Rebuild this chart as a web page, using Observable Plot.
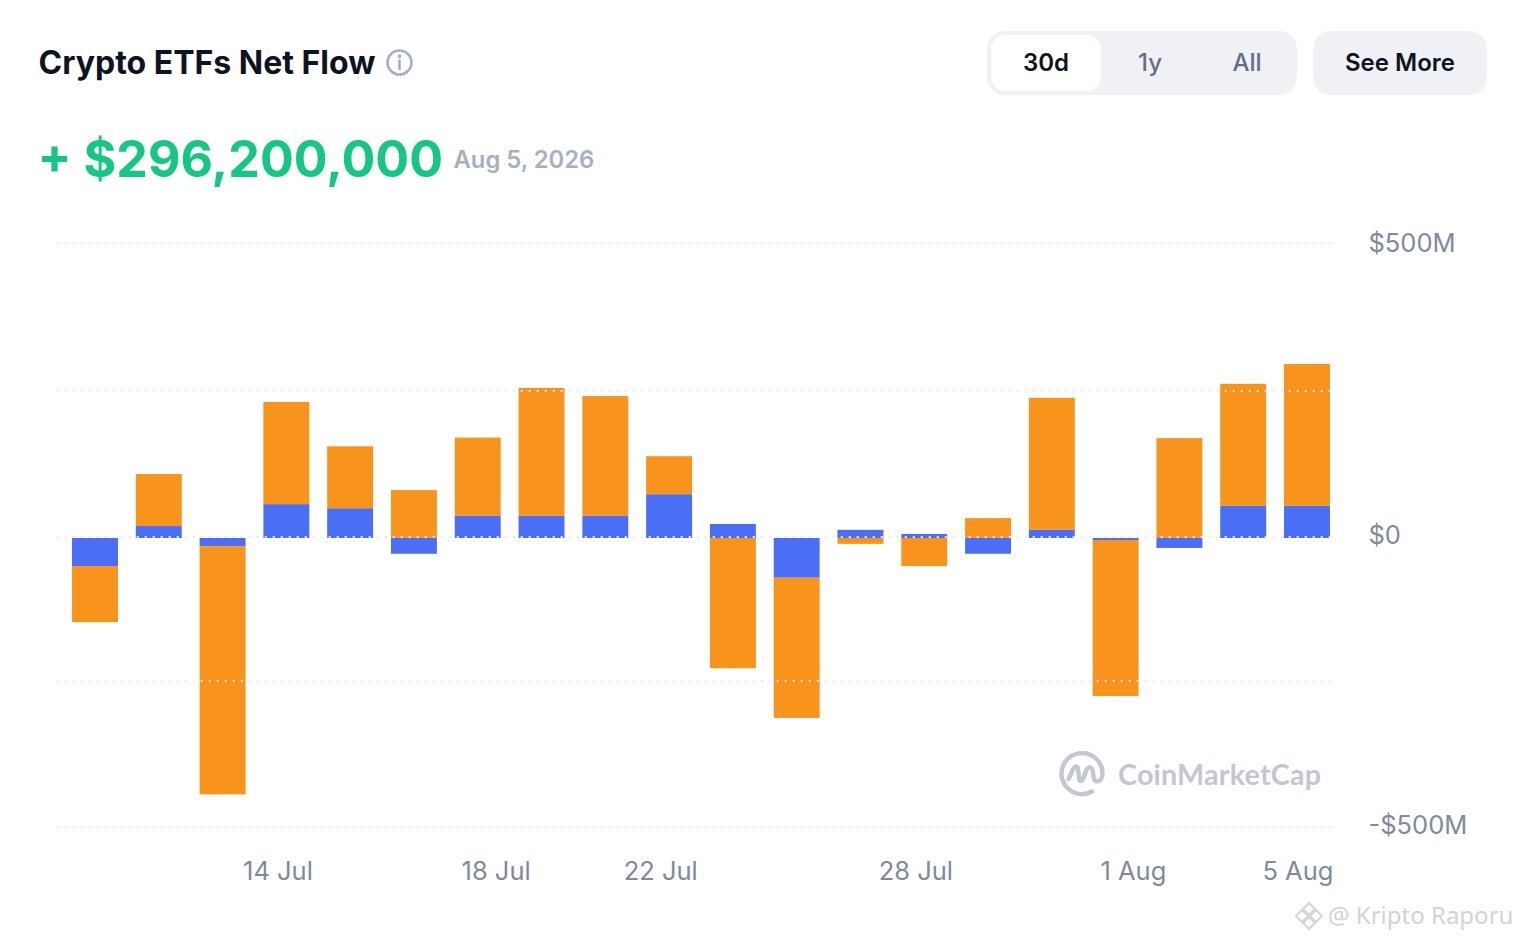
<!DOCTYPE html>
<html><head><meta charset="utf-8">
<script src="https://cdn.jsdelivr.net/npm/d3@7"></script>
<script src="https://cdn.jsdelivr.net/npm/@observablehq/plot@0.6"></script>
<style>
html,body{margin:0;padding:0;background:#fff;width:1520px;height:940px;overflow:hidden;font-family:Inter,sans-serif}
.a{position:absolute;white-space:nowrap;line-height:1}
#chart{position:absolute;left:0;top:200px}
#chart svg{display:block;background:transparent;overflow:visible}
</style></head><body>
<div class="a" id="title" style="left:38.500px;top:47px;font-size:32px;font-weight:700;color:#0d1421">Crypto ETFs Net Flow</div>
<svg class="a" style="left:385px;top:48px" width="29" height="29" viewBox="0 0 29 29" fill="none" stroke="#a6b0c3" stroke-width="2.6" stroke-linecap="round"><circle cx="14.5" cy="14.5" r="12"/><path d="M14.5 12.500v8.500"/><path d="M14.5 8v.5" stroke-width="3.400"/></svg>
<div class="a" style="left:987px;top:31px;width:310px;height:64px;background:#eff1f5;border-radius:18px"></div>
<div class="a" style="left:991px;top:35px;width:110px;height:56px;background:#fff;border-radius:14px"></div>
<div class="a" style="left:991px;width:110px;top:51px;text-align:center;font-size:24px;font-weight:600;color:#0d1421">30d</div>
<div class="a" style="left:1100px;width:100px;top:51px;text-align:center;font-size:24px;font-weight:500;color:#616e85">1y</div>
<div class="a" style="left:1197px;width:100px;top:51px;text-align:center;font-size:24px;font-weight:500;color:#616e85">All</div>
<div class="a" style="left:1313px;top:31px;width:174px;height:64px;background:#eff1f5;border-radius:18px"></div>
<div class="a" style="left:1313px;width:174px;top:51px;text-align:center;font-size:24px;font-weight:600;color:#0d1421">See More</div>
<div class="a" style="left:37.500px;top:134px;font-size:50.200px;font-weight:700;color:#16c784">+ $296,200,000</div>
<div class="a" style="left:453.500px;top:148px;font-size:23.800px;font-weight:600;color:#a6b0c3">Aug 5, 2026</div>
<div id="chart"></div>
<svg class="a" style="left:1059px;top:751px" width="46" height="46" viewBox="0 0 46 46" fill="none" stroke="#c3c7d1" stroke-width="4.4" stroke-linecap="round" stroke-linejoin="round"><path d="M33 40.5A20.5 20.5 0 1 1 43.5 23c0 4-2.4 7.4-5.2 7.4-3.4 0-3.8-4-4.2-8-.4-3.4-1.6-6-3.6-6-3.600 0-4 7-6.500 11.500-1 1.800-2.200 2.700-3.200 1.700-1.600-1.700-.8-10-2.300-13-.8-1.500-2.400-1.500-3.700.4-1.700 2.700-3.300 7-5.300 11"/></svg>
<div class="a" style="left:1118px;top:760px;font-size:28.700px;font-weight:700;color:#c3c7d1;letter-spacing:.2px;font-family:Lato,Inter,sans-serif">CoinMarketCap</div>
<svg class="a" style="left:1294px;top:901px" width="30" height="30" viewBox="0 0 30 30" fill="none" stroke="#d4d6da" stroke-width="2"><path d="M15 2 21 8 15 14 9 8Z M8 9 14 15 8 21 2 15Z M22 9 28 15 22 21 16 15Z M15 16 21 22 15 28 9 22Z"/></svg>
<div class="a" style="left:1328px;top:903px;font-size:24px;color:#d0d3d8;font-family:'Noto Sans',sans-serif">@ Kripto Raporu</div>
<script>
const blueFlow = [-48, 20.5, -14, 58, 51, -27, 38, 38, 38, 75, 24, -68, 14, 7, -27, 14, -3.4, -17, 55, 55];
const orangeFlow = [-96, 89, -425, 175, 106, 82, 134, 219, 205, 65, -223, -240, -10, -48, 34, 226, -267, 171, 209, 243];
const xTickLabels = ["14 Jul", "18 Jul", "22 Jul", "28 Jul", "1 Aug", "5 Aug"];
const xTickAt = [2.86, 6.28, 8.86, 12.86, 16.27, 18.85];
const yTickLabels = ["$500M", "$0", "-$500M"];
const yTickAt = [505, 4.6, -491.5];
const gridLevels = [505.8, 252.5, 2.5, -244.1, -494.1];
const seriesColors = {first: "#4a6ff6", second: "#f8931c"};

const rows = [];
blueFlow.forEach((v, i) => rows.push({i, series: "first", v}));
orangeFlow.forEach((v, i) => rows.push({i, series: "second", v}));

const plot = Plot.plot({
  width: 1520, height: 700,
  marginTop: 0, marginLeft: 0, marginRight: 152, marginBottom: 39,
  style: {background: "transparent", fontFamily: "Inter, sans-serif"},
  x: {type: "linear", domain: [0, 19], range: [95, 1307]},
  y: {type: "linear", domain: [500, -500], range: [46, 630]},
  color: {domain: ["first", "second"], range: [seriesColors.first, seriesColors.second]},
  marks: [
    Plot.rectY(rows, Plot.stackY({
      x1: d => d.i - 0.36, x2: d => d.i + 0.36, y: "v", fill: "series", order: null, z: "series"
    })),
    Plot.ruleY(gridLevels, {x1: -0.6, x2: 19.4, stroke: "#e9ebef", strokeWidth: 2, strokeDasharray: "2 6"}),
    Plot.axisY({anchor: "right", ticks: yTickAt, tickFormat: (d, i) => yTickLabels[i], tickSize: 0, tickPadding: 0, fontSize: 25.5, fontVariant: "normal", color: "#808a9d", label: null}),
    Plot.axisX({anchor: "bottom", ticks: xTickAt, tickFormat: (d, i) => xTickLabels[i], tickSize: 0, tickPadding: 0, fontSize: 25.5, fontVariant: "normal", color: "#808a9d", label: null})
  ]
});
document.getElementById("chart").appendChild(plot);
</script>
</body></html>
